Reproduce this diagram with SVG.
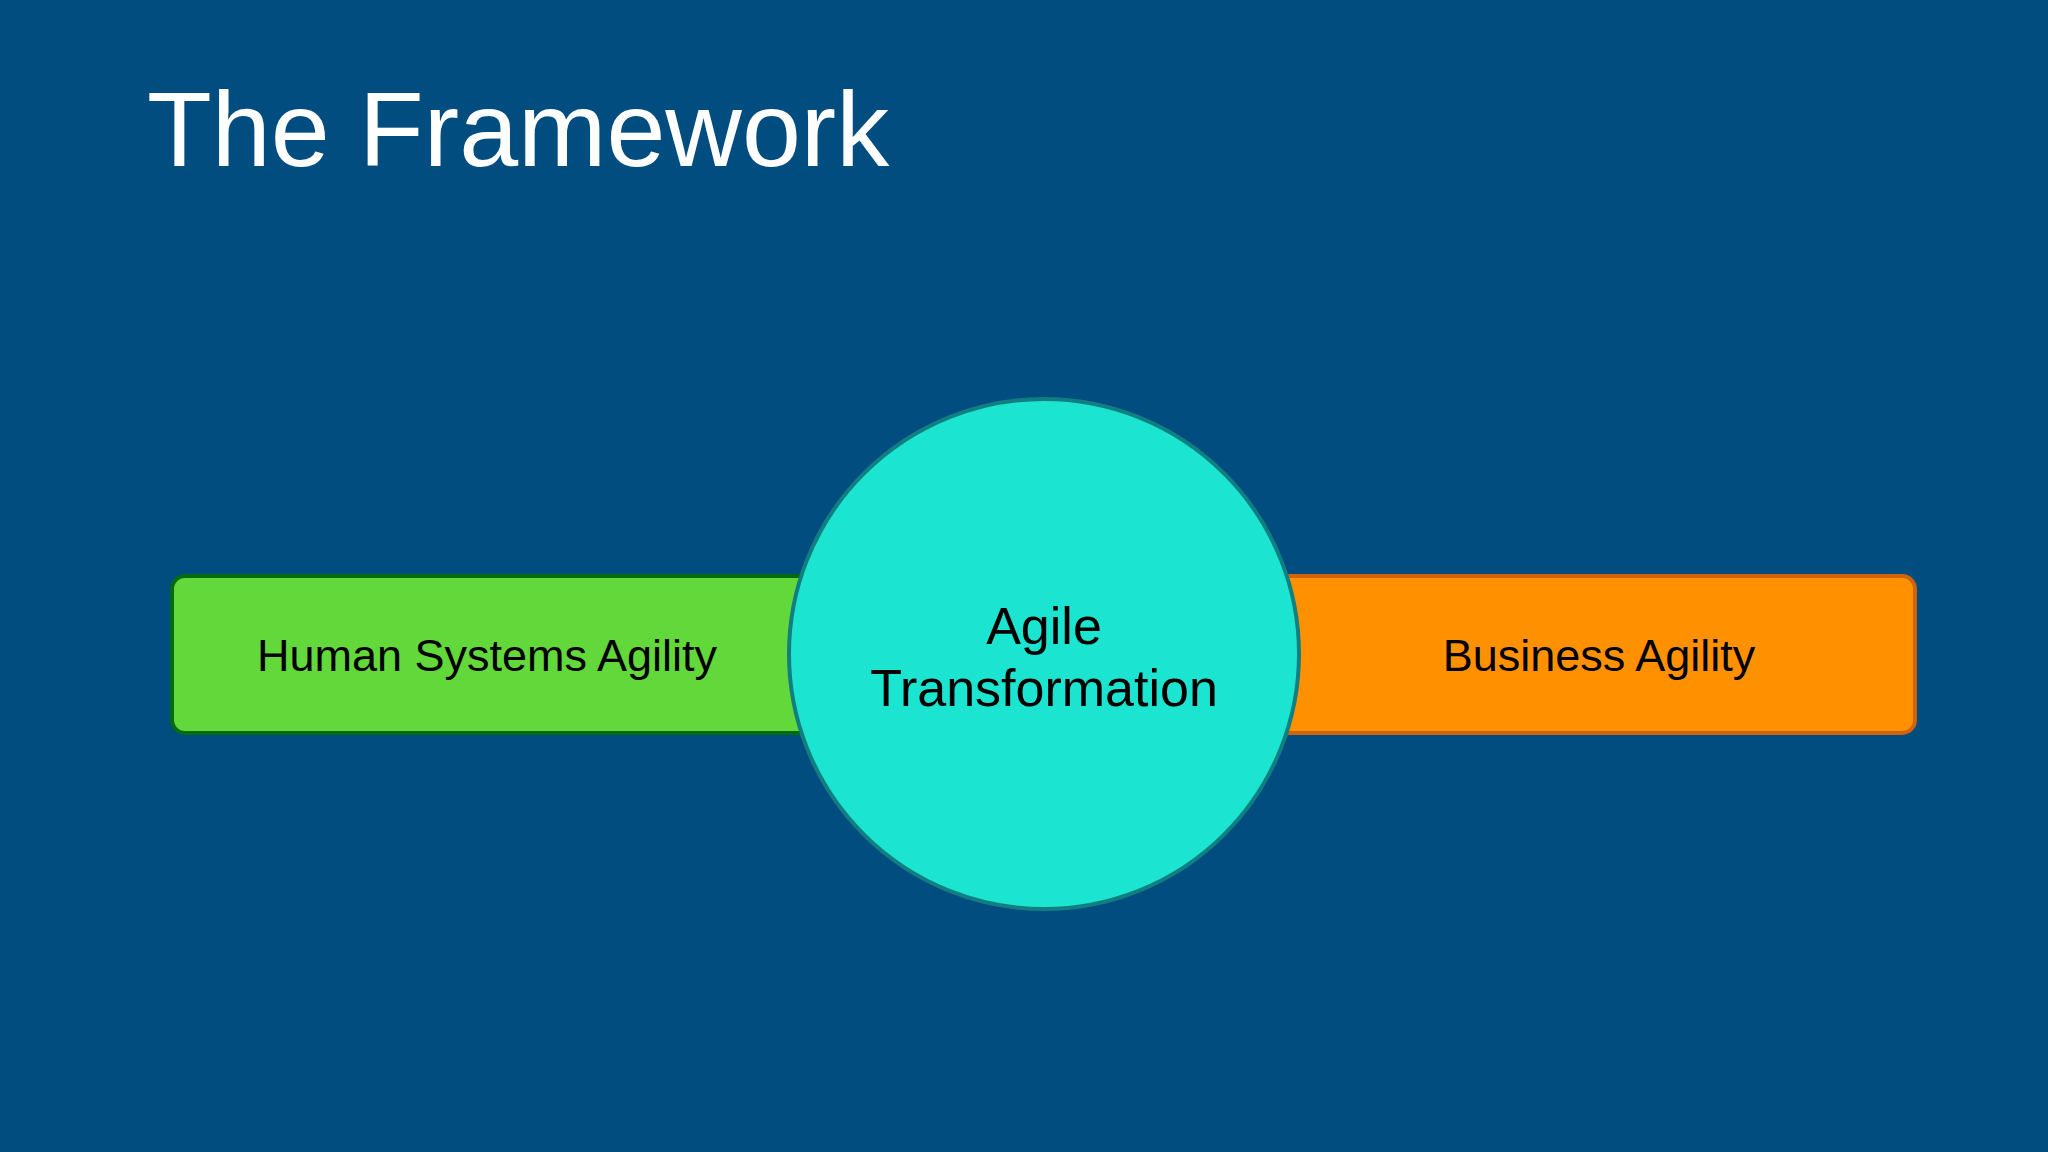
<svg xmlns="http://www.w3.org/2000/svg" width="2048" height="1152" viewBox="0 0 2048 1152">
<style>
.lbl{font-family:"Liberation Sans",Arial,sans-serif;fill:#000;text-anchor:middle}
.box{stroke-width:4}
</style>
<rect width="2048" height="1152" fill="#014d80"/>
<text x="147" y="166" font-family="'Liberation Sans',Arial,sans-serif" font-size="106" fill="#ffffff">The Framework</text>
<g id="connectors"></g>
<g id="human">
<rect class="box" x="172" y="576" width="640" height="157" rx="13" fill="#62d83a" stroke="#066a12"/>
<text class="lbl" x="487" y="671" font-size="45">Human Systems Agility</text>
</g>
<g id="business">
<rect class="box" x="1275" y="576" width="640" height="157" rx="13" fill="#ff9100" stroke="#d0640c"/>
<text class="lbl" x="1599" y="671" font-size="45">Business Agility</text>
</g>
<g id="agile">
<circle cx="1044" cy="654" r="255" fill="#1be5d0" stroke="#117f82" stroke-width="4"/>
<text class="lbl" x="1044" y="644" font-size="52">Agile</text>
<text class="lbl" x="1044" y="706" font-size="52">Transformation</text>
</g>
</svg>
